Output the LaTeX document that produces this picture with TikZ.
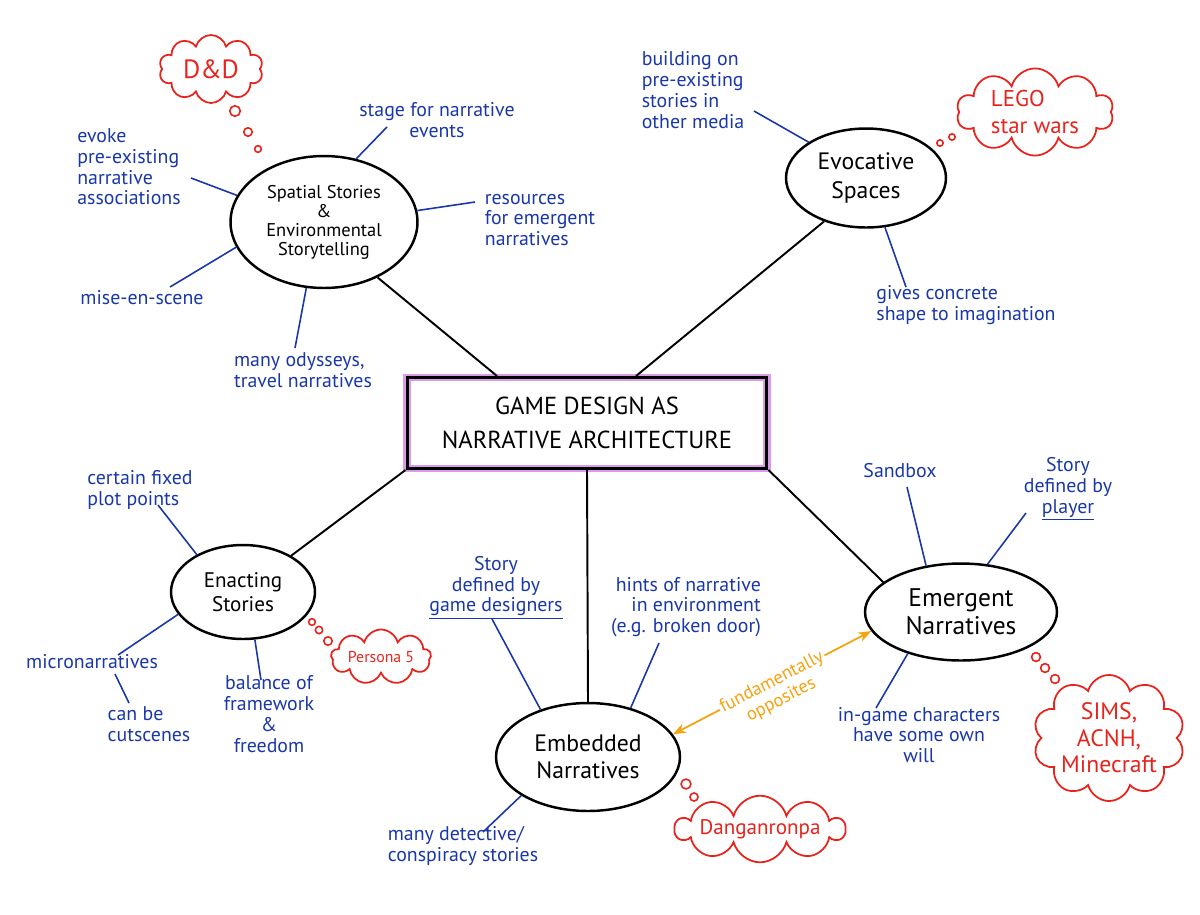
\documentclass[tikz,border=0pt]{standalone}
\usepackage{fontspec}
\setmainfont{PT Sans}
\usetikzlibrary{shapes.geometric,shapes.symbols,arrows.meta}

\definecolor{inkblue}{RGB}{25,55,168}
\definecolor{inkred}{RGB}{232,35,28}
\definecolor{inkorange}{RGB}{246,162,14}
\definecolor{glow}{RGB}{218,155,233}

\begin{document}
\begin{tikzpicture}[x=0.02cm,y=-0.02cm,>=Stealth]
  \tikzset{
    topic/.style={draw, ellipse, line width=1.4pt, inner sep=0pt, align=center},
    note/.style={text=inkblue, align=center, inner sep=1pt, font=\fontsize{11.3}{11.8}\selectfont},
    leaf/.style={draw=inkblue, line width=0.9pt},
    trunk/.style={draw, line width=1.1pt},
    thought/.style={draw=inkred, cloud, cloud puffs=10, cloud ignores aspect, line width=1pt, text=inkred, align=center, inner sep=0pt},
    puff/.style={draw=inkred, line width=0.9pt}
  }
  \useasboundingbox (0,0) rectangle (1200,914);

  \node[draw, line width=1.7pt, preaction={draw=glow, line width=4.5pt}, minimum width=7.2cm, minimum height=1.82cm, align=center, font=\fontsize{14}{19}\selectfont] (title) at (587,423) {GAME DESIGN AS\\NARRATIVE ARCHITECTURE};

  \node[topic, minimum width=3.74cm, minimum height=2.64cm, font=\fontsize{10.5}{10.8}\selectfont] (spatial) at (324,222) {Spatial Stories\\\&\\Environmental\\Storytelling};
  \node[topic, minimum width=3.2cm, minimum height=1.98cm, font=\fontsize{13.5}{16}\selectfont] (evoc) at (866,178) {Evocative\\Spaces};
  \node[topic, minimum width=2.88cm, minimum height=1.88cm, font=\fontsize{12}{13.5}\selectfont] (enact) at (243,592) {Enacting\\Stories};
  \node[topic, minimum width=3.68cm, minimum height=2.16cm, font=\fontsize{13.5}{15}\selectfont] (embed) at (588,757) {Embedded\\Narratives};
  \node[topic, minimum width=3.84cm, minimum height=1.94cm, font=\fontsize{14.5}{16}\selectfont] (emerg) at (961,612) {Emergent\\Narratives};

  \draw[trunk] ([xshift=-1.8cm]title.north) -- (spatial.314);
  \draw[trunk] ([xshift=0.98cm]title.north) -- (evoc.226);
  \draw[trunk] (title.south west) -- (enact.37);
  \draw[trunk] (title.south) -- (embed.north);
  \draw[trunk] (title.south east) -- (emerg.159);

  \node[note] (stage) at (437,120) {stage for narrative\\events};
  \node[note, align=left] (evoke) at (129,167) {evoke\\pre-existing\\narrative\\associations};
  \node[note, align=left] (resource) at (540,220) {resources\\for emergent\\narratives};
  \node[note] (mise) at (142,298) {mise-en-scene};
  \node[note, align=left] (odyssey) at (303,370) {many odysseys,\\travel narratives};
  \draw[leaf] ([shift={(-50,7)}]stage.center) -- (spatial.63);
  \draw[leaf] ([shift={(62,11)}]evoke.center) -- (spatial.163);
  \draw[leaf] ([shift={(-65,-18)}]resource.center) -- (spatial.7);
  \draw[leaf] ([shift={(28,-11)}]mise.center) -- (spatial.196);
  \draw[leaf] ([shift={(-8,-22)}]odyssey.center) -- (spatial.255);
  \node[thought, minimum width=2.08cm, minimum height=1.36cm, font=\fontsize{15}{17}\selectfont] (dnd) at (211,69) {D\&D};
  \draw[puff] (235,111) circle[radius=3pt] (248,132) circle[radius=2.4pt] (258,149) circle[radius=1.9pt];

  \node[note, align=left] (building) at (693,90) {building on\\pre-existing\\stories in\\other media};
  \node[note, align=left] (concrete) at (966,305) {gives concrete\\shape to imagination};
  \draw[leaf] ([shift={(61,21)}]building.center) -- (evoc.148);
  \draw[leaf] ([shift={(-60,-18)}]concrete.center) -- (evoc.291);
  \node[thought, minimum width=3.14cm, minimum height=1.58cm, align=left, font=\fontsize{13}{15}\selectfont] (lego) at (1035,112) {LEGO\\star wars};
  \draw[puff] (940,143) circle[radius=1.8pt] (952,137) circle[radius=1.8pt];

  \node[note, align=left] (fixed) at (140,490) {certain fixed\\plot points};
  \node[note] (micro) at (92,662) {micronarratives};
  \node[note, align=left] (cutscene) at (149,724) {can be\\cutscenes};
  \node[note] (balance) at (269,714) {balance of\\framework\\\&\\freedom};
  \draw[leaf] ([shift={(18,15)}]fixed.center) -- (enact.141);
  \draw[leaf] ([shift={(26,-7)}]micro.center) -- (enact.199);
  \draw[leaf] ([shift={(23,12)}]micro.center) -- ([shift={(-20,-21)}]cutscene.center);
  \draw[leaf] ([shift={(-8,-34)}]balance.center) -- (enact.284);
  \node[thought, cloud puffs=9, minimum width=2.0cm, minimum height=1.1cm, font=\fontsize{9}{10}\selectfont] (persona) at (381,657) {Persona 5};
  \draw[puff] (312,622) circle[radius=1.9pt] (319,630) circle[radius=2.1pt] (328,641) circle[radius=2.4pt];

  \node[note] (designers) at (496,588) {Story\\defined by\\\underline{game designers}};
  \node[note, align=right] (hints) at (686,607) {hints of narrative\\in environment\\(e.g. broken door)};
  \node[note, align=left] (detective) at (463,846) {many detective/\\conspiracy stories};
  \draw[leaf] ([shift={(-4,31)}]designers.center) -- (embed.135);
  \draw[leaf] ([shift={(-27,36)}]hints.center) -- (embed.49);
  \draw[leaf] ([shift={(20,-14)}]detective.center) -- (embed.210);
  \node[thought, minimum width=3.32cm, minimum height=1.16cm, font=\fontsize{12}{13}\selectfont] (danganronpa) at (760,829) {Danganronpa};
  \draw[puff] (686,784) circle[radius=2.8pt] (694,797) circle[radius=2.3pt];

  \node[note] (sandbox) at (900,471) {Sandbox};
  \node[note] (player) at (1068,489) {Story\\defined by\\\underline{player}};
  \node[note] (npc) at (919,735) {in-game characters\\have some own\\will};
  \draw[leaf] ([shift={(7,16)}]sandbox.center) -- (emerg.127);
  \draw[leaf] ([shift={(-42,24)}]player.center) -- (emerg.61);
  \draw[leaf] ([shift={(-43,-27)}]npc.center) -- (emerg.218);
  \node[thought, minimum width=3.0cm, minimum height=2.42cm, font=\fontsize{13.5}{15}\selectfont] (sims) at (1109,738) {SIMS,\\ACNH,\\Minecraft};
  \draw[puff] (1036,657) circle[radius=2.5pt] (1045,668) circle[radius=2.5pt] (1055,679) circle[radius=2.5pt];

  \draw[<->, draw=inkorange, line width=1pt] (embed.15) -- node[sloped, anchor=north, yshift=6.5pt, fill=white, inner sep=1pt, align=center, text=inkorange, font=\fontsize{10.5}{11.5}\selectfont] (oppo) {fundamentally\\opposites} (emerg.192);
\end{tikzpicture}
\end{document}
